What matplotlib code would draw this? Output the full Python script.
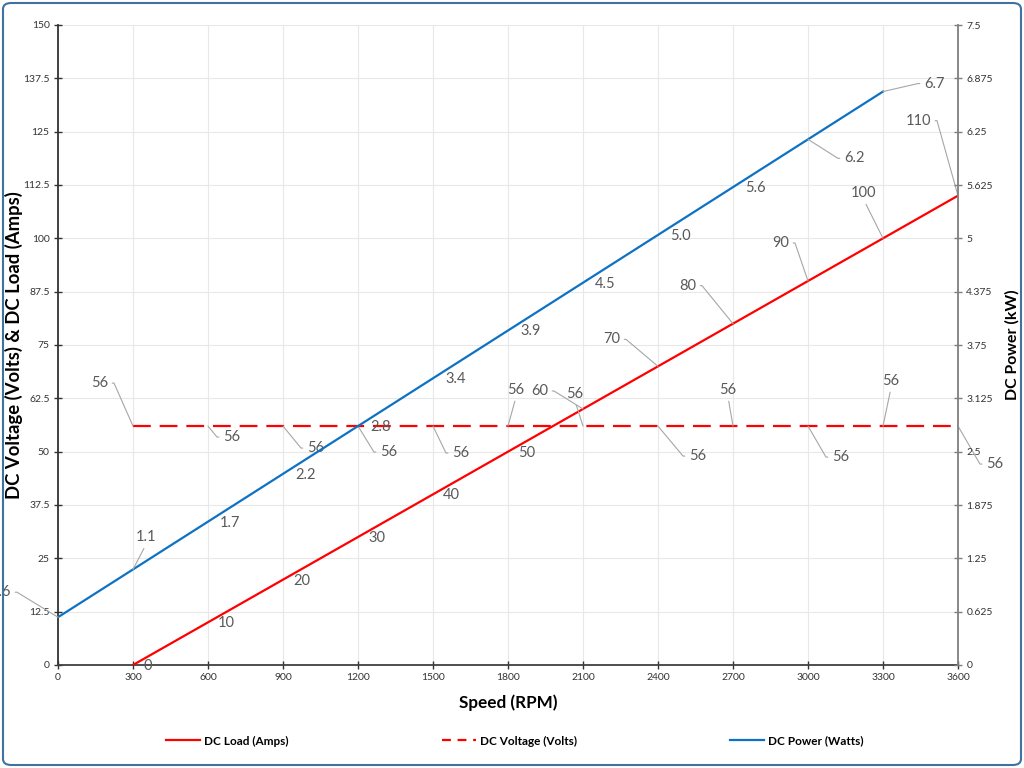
import numpy as np
import matplotlib
matplotlib.use("Agg")
import matplotlib.pyplot as plt
from matplotlib.patches import FancyBboxPatch
from matplotlib.lines import Line2D
from matplotlib.ticker import FuncFormatter, MultipleLocator

plt.rcParams["font.family"] = ["Lato", "DejaVu Sans"]

# data
load_rpm = [300, 600, 900, 1200, 1500, 1800, 2100, 2400, 2700, 3000, 3300, 3600]
load_amps = [0, 10, 20, 30, 40, 50, 60, 70, 80, 90, 100, 110]
voltage_rpm = [300, 600, 900, 1200, 1500, 1800, 2100, 2400, 2700, 3000, 3300, 3600]
voltage_volts = [56, 56, 56, 56, 56, 56, 56, 56, 56, 56, 56, 56]
power_rpm = [0, 300, 600, 900, 1200, 1500, 1800, 2100, 2400, 2700, 3000, 3300]
power_kw = [0.56, 1.12, 1.68, 2.24, 2.80, 3.36, 3.92, 4.48, 5.04, 5.60, 6.16, 6.72]
series_names = ["DC Load (Amps)", "DC Voltage (Volts)", "DC Power (Watts)"]

# label placement: (kind, dx px, dy px) relative to the point
load_place = [(None, 10, -1)] * 6 + [("L", -35, 18), ("L", -38, 27), ("L", -37, 38),
                                      ("L", -19, 38), ("T", -19, 38), ("L", -27, 75)]
volt_place = [("L", -25, 43), ("R", 15, -11), ("R", 24, -22), ("R", 22, -26),
              ("R", 19, -27), ("T", 8, 29), ("T", -8, 25), ("R", 31, -30),
              ("T", -5, 29), ("R", 24, -31), ("T", 8, 38), ("R", 28, -38)]
power_place = [("L", -47, 25), ("T", 13, 25)] + [(None, 12, -1)] * 8 + \
              [("R", 36, -19), ("R", 41, 8)]

RED = "#ff0000"
BLUE = "#0e72c4"
LABEL_GRAY = "#595959"
LEADER_GRAY = "#a6a6a6"
STUB = 6

fig = plt.figure(figsize=(10.24, 7.68), dpi=100)
ax = fig.add_axes([58 / 1024, 103 / 768, 900 / 1024, 640 / 768])
ax2 = ax.twinx()
ax2.set_position(ax.get_position())

ax.plot(load_rpm, load_amps, color=RED, lw=1.6, zorder=3)
ax.plot(voltage_rpm, voltage_volts, color=RED, lw=1.6, dashes=(8, 4), zorder=3)
ax2.plot(power_rpm, power_kw, color=BLUE, lw=1.6, zorder=3)

ax.set_xlim(0, 3600)
ax.set_ylim(0, 150)
ax2.set_ylim(0, 7.5)
ax.xaxis.set_major_locator(MultipleLocator(300))
ax.yaxis.set_major_locator(MultipleLocator(12.5))
ax2.yaxis.set_major_locator(MultipleLocator(0.625))
fmt = FuncFormatter(lambda v, p: f"{v:g}")
ax.yaxis.set_major_formatter(fmt)
ax2.yaxis.set_major_formatter(fmt)

ax.grid(color="#e8e8e8", lw=0.8)
ax.set_axisbelow(True)
for a in (ax, ax2):
    a.spines["top"].set_visible(False)
ax.spines["right"].set_visible(False)
ax.spines["left"].set_color("#333333")
ax.spines["left"].set_linewidth(1.3)
ax.spines["bottom"].set_color("#404040")
ax.spines["bottom"].set_linewidth(1.3)
ax2.spines["left"].set_visible(False)
ax2.spines["bottom"].set_visible(False)
ax2.spines["right"].set_color("#7f7f7f")
ax2.spines["right"].set_linewidth(1.3)

ax.tick_params(direction="inout", length=6, width=1, labelsize=7.5,
               colors="#333333", pad=3)
ax2.tick_params(direction="inout", length=6, width=1, labelsize=7.5,
                color="#7f7f7f", labelcolor="#333333", pad=3)

title_kw = dict(fontsize=12, fontweight="bold", va="center")
xl = ax.set_xlabel("Speed (RPM)", **title_kw)
ax.xaxis.set_label_coords(0.5, -38 / 640)
yl = ax.set_ylabel("DC Voltage (Volts) & DC Load (Amps)", **title_kw)
ax.yaxis.set_label_coords(-44 / 900, 0.5)
yr = ax2.set_ylabel("DC Power (kW)", rotation=90, **title_kw)
ax2.yaxis.set_label_coords(954 / 900, 0.5)

# scale the axis titles to the lengths they have in the original
renderer = fig.canvas.get_renderer()
for t, target, horiz in ((xl, 98, True), (yl, 305, False), (yr, 110, False)):
    bb = t.get_window_extent(renderer)
    size = bb.width if horiz else bb.height
    t.set_fontsize(t.get_fontsize() * target / size)

px2pt = 72 / fig.dpi


def label_points(axis, xs, ys, texts, places):
    for x, y, txt, (kind, dx, dy) in zip(xs, ys, texts, places):
        off = (dx * px2pt, dy * px2pt)
        kw = dict(xytext=off, textcoords="offset points", fontsize=10.5,
                  color=LABEL_GRAY, annotation_clip=False, zorder=5)
        if kind is None:
            axis.annotate(txt, (x, y), ha="left", va="center", **kw)
            continue
        if kind == "T":
            ha, va, rel, conn = "center", "bottom", (0.5, 0), "arc3"
        else:
            s = STUB if kind == "L" else -STUB
            ang = np.degrees(np.arctan2(dy, dx + s))
            conn = f"angle,angleA=0,angleB={ang:.2f},rad=0"
            ha = "right" if kind == "L" else "left"
            va = "center"
            rel = (1, 0.5) if kind == "L" else (0, 0.5)
        axis.annotate(txt, (x, y), ha=ha, va=va,
                      arrowprops=dict(arrowstyle="-", color=LEADER_GRAY, lw=0.8,
                                      shrinkA=1, shrinkB=0, relpos=rel,
                                      connectionstyle=conn),
                      **kw)


label_points(ax, load_rpm, load_amps, [f"{v:g}" for v in load_amps], load_place)
label_points(ax, voltage_rpm, voltage_volts, [f"{v:g}" for v in voltage_volts], volt_place)
label_points(ax2, power_rpm, power_kw, [f"{v:.1f}" for v in power_kw], power_place)

handles = [Line2D([], [], color=RED, lw=1.6),
           Line2D([], [], color=RED, lw=1.6, dashes=(4, 3)),
           Line2D([], [], color=BLUE, lw=1.6)]
legend_x = [166, 442, 730]
for h, name, lx in zip(handles, series_names, legend_x):
    fig.legend([h], [name], loc="center left",
               bbox_to_anchor=(lx / 1024, 1 - 741 / 768),
               frameon=False, borderpad=0, borderaxespad=0,
               handlelength=2.9, handletextpad=0.3,
               prop=dict(size=8.5, weight="bold"))

border = FancyBboxPatch((3 / 1024, 3 / 768), 1018 / 1024, 762 / 768,
                        boxstyle="round,pad=0,rounding_size=0.008",
                        transform=fig.transFigure, fill=False,
                        edgecolor="#41719c", lw=1.5)
fig.patches.append(border)

fig.savefig("out.png", dpi=100)
